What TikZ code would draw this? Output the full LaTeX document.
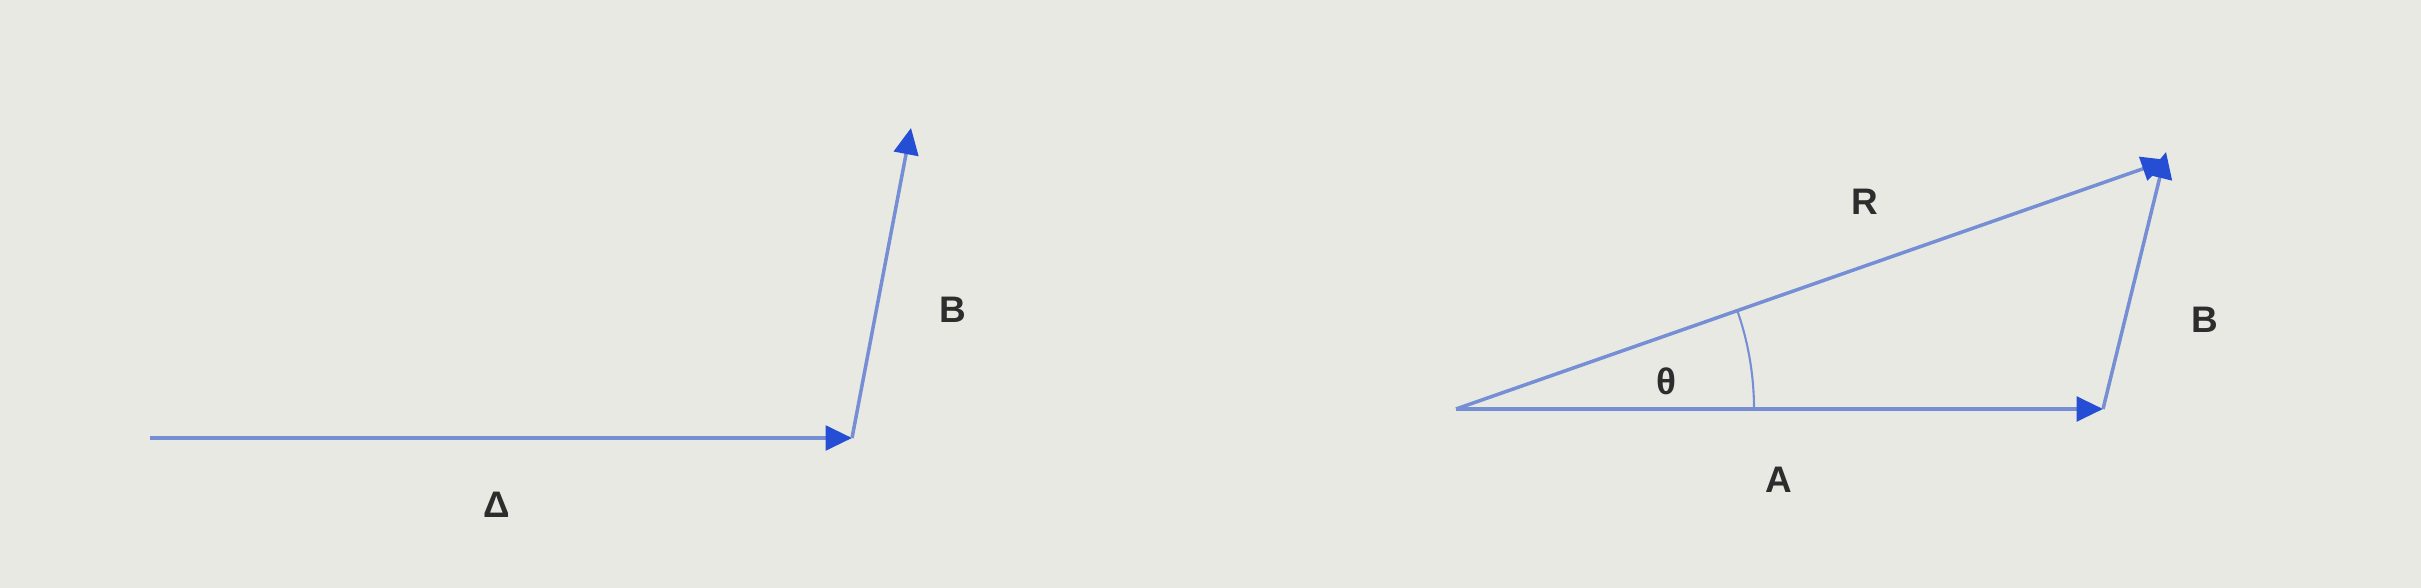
\documentclass[tikz,border=0pt]{standalone}
\usepackage{fontspec}
\setmainfont{Liberation Sans}
\usetikzlibrary{arrows.meta}
\definecolor{screen}{RGB}{233,233,228}
\definecolor{vecline}{RGB}{118,143,212}
\definecolor{vechead}{RGB}{38,78,212}
\definecolor{ink}{RGB}{45,45,45}
\tikzset{
  vec/.style={draw=vecline,line width=1pt,
    -{Triangle[length=7.5pt,width=7pt,color=vechead]}},
  lbl/.style={text=ink,font=\bfseries\fontsize{10.5}{11}\selectfont,inner sep=0pt}
}
\begin{document}
\begin{tikzpicture}[x=0.01cm,y=-0.01cm]
  \fill[screen] (0,0) rectangle (2421,588);
  \useasboundingbox (0,0) rectangle (2421,588);
  % first picture: A then B
  \coordinate (lo) at (150,438);
  \coordinate (la) at (852,438);
  \coordinate (lb) at (911,128);
  \draw[vec] (lo) -- (la);
  \draw[vec] (la) -- (lb);
  \node[lbl] (lblB) at (953,310) {B};
  \node[lbl] (lblA) at (497,505) {Δ};
  % second picture: R = A + B
  \coordinate (ro) at (1456,409);
  \coordinate (ra) at (2103,409);
  \coordinate (rr) at (2168,160);
  \coordinate (rb) at (2166,152);
  \draw[vec] (ro) -- (ra);
  \draw[vec] (ra) -- (rb);
  \draw[vec] (ro) -- (rr);
  \draw[vecline,line width=0.6pt] ([shift={(298,0)}]ro) arc[start angle=0,end angle=-19.3,radius=298];
  \node[lbl] (lblR) at (1865,202) {R};
  \node[lbl] (lblBr) at (2205,320) {B};
  \node[lbl] (lblT) at (1666,381) {θ};
  \node[lbl] (lblAr) at (1779,480) {A};
\end{tikzpicture}
\end{document}
